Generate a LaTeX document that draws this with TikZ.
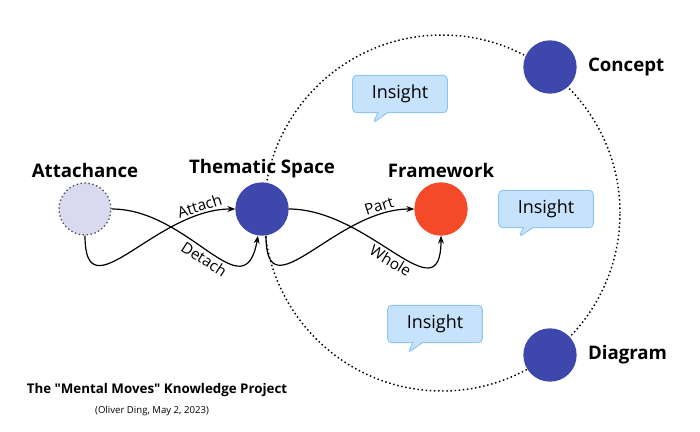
\documentclass[tikz,border=0pt]{standalone}
\usepackage{fontspec}
\setmainfont{Open Sans}
\usetikzlibrary{positioning,shapes.callouts,arrows.meta}
\definecolor{moveblue}{HTML}{3E48AC}
\definecolor{frameorange}{HTML}{F44A27}
\definecolor{attfill}{HTML}{D9DAF0}
\definecolor{insfill}{HTML}{C6E3FB}
\definecolor{insdraw}{HTML}{8EC6F1}

\begin{document}
\begin{tikzpicture}
	[x=0.75pt, y=-0.75pt, line width=1pt,
	main/.style = {draw=moveblue, circle, fill=moveblue, minimum size=39pt, inner sep=0pt},
	title/.style = {font=\bfseries\fontsize{14}{16}\selectfont, inner sep=1pt},
	move/.style = {-{Stealth[length=6pt,width=4.5pt]}, line width=0.9pt},
	edgelbl/.style = {font=\fontsize{11.5}{13}\selectfont, sloped, inner sep=2pt},
	insight/.style = {rectangle callout, draw=insdraw, fill=insfill, rounded corners=3pt,
		minimum width=71pt, minimum height=28pt, line width=0.7pt,
		font=\fontsize{13.5}{15}\selectfont}]
	\useasboundingbox (0,0) rectangle (700,432);
	\draw[dotted, line width=1.1pt] (442,213) circle[radius=133.5pt];
	\node[main, draw=black!70, dotted, fill=attfill] (att) at (85,209) {};
	\node[main] (them) at (262,209) {};
	\node[main, draw=frameorange, fill=frameorange] (frame) at (441,209) {};
	\node[main] (concept) at (550,67) {};
	\node[main] (diagram) at (550,355) {};
	\node[title] (attlbl) [above=2pt of att] {Attachance};
	\node[title] (themlbl) [above=2pt of them] {Thematic Space};
	\node[title] (framelbl) [above=2pt of frame] {Framework};
	\node[title] (conceptlbl) [right=7pt of concept] {Concept};
	\node[title] (diagramlbl) [right=7pt of diagram] {Diagram};
	\coordinate (tip1) at (373,123);
	\coordinate (tip2) at (519,237);
	\coordinate (tip3) at (408,353);
	\node[insight, callout absolute pointer=(tip1)] (ins1) at (400,94) {Insight};
	\node[insight, callout absolute pointer=(tip2)] (ins2) at (546,209) {Insight};
	\node[insight, callout absolute pointer=(tip3)] (ins3) at (435,324) {Insight};
	\draw[move] (att.east) to[out=0, in=-100, looseness=1.35]
		node[edgelbl, below, pos=0.5] {Detach} ([xshift=-3pt]them.south);
	\draw[move] (att.south) to[out=-90, in=180, looseness=1.35]
		node[edgelbl, above, pos=0.86] {Attach} (them.west);
	\draw[move] (them.east) to[out=0, in=-90, looseness=1.35]
		node[edgelbl, below, pos=0.5] {Whole} (frame.south);
	\draw[move] ([xshift=3pt]them.south) to[out=-90, in=180, looseness=1.35]
		node[edgelbl, above, pos=0.86] {Part} (frame.west);
	\node[font=\bfseries\fontsize{10}{12}\selectfont] (proj) at (157,390) {The \textquotedbl Mental Moves\textquotedbl{} Knowledge Project};
	\node[font=\fontsize{7.2}{9}\selectfont] (credit) at (152,411) {(Oliver Ding, May 2, 2023)};
\end{tikzpicture}
\end{document}
